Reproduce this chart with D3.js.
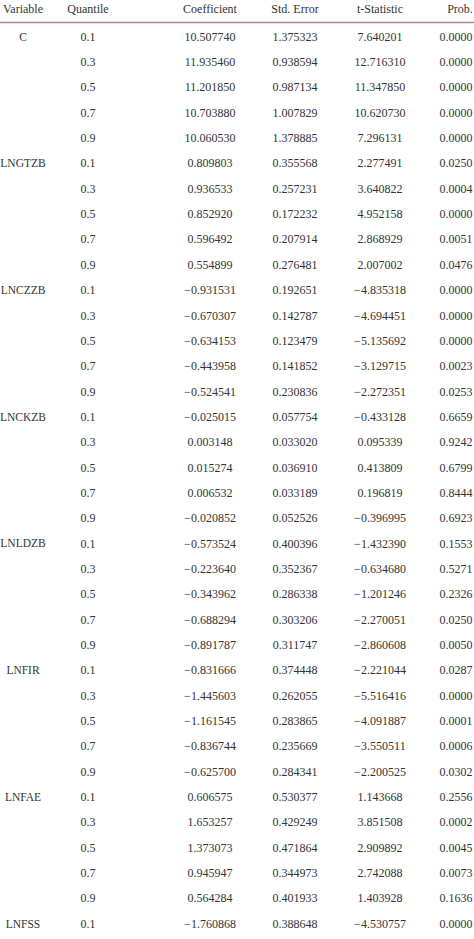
<!DOCTYPE html>
<html><head><meta charset="utf-8">
<script src="https://cdn.jsdelivr.net/npm/d3@7"></script>
<style>body{margin:0;background:#fff;overflow:hidden}</style>
</head><body><svg id="t" width="474" height="939"></svg>
<script>
// Table contents
const headers = ["Variable", "Quantile", "Coefficient", "Std. Error", "t-Statistic", "Prob."];
const variables = ["C", "LNGTZB", "LNCZZB", "LNCKZB", "LNLDZB", "LNFIR", "LNFAE", "LNFSS"];
const quantiles = ["0.1", "0.3", "0.5", "0.7", "0.9"];
const coefficient = [
  "10.507740","11.935460","11.201850","10.703880","10.060530",
  "0.809803","0.936533","0.852920","0.596492","0.554899",
  "\u22120.931531","\u22120.670307","\u22120.634153","\u22120.443958","\u22120.524541",
  "\u22120.025015","0.003148","0.015274","0.006532","\u22120.020852",
  "\u22120.573524","\u22120.223640","\u22120.343962","\u22120.688294","\u22120.891787",
  "\u22120.831666","\u22121.445603","\u22121.161545","\u22120.836744","\u22120.625700",
  "0.606575","1.653257","1.373073","0.945947","0.564284",
  "\u22121.760868"];
const stdError = [
  "1.375323","0.938594","0.987134","1.007829","1.378885",
  "0.355568","0.257231","0.172232","0.207914","0.276481",
  "0.192651","0.142787","0.123479","0.141852","0.230836",
  "0.057754","0.033020","0.036910","0.033189","0.052526",
  "0.400396","0.352367","0.286338","0.303206","0.311747",
  "0.374448","0.262055","0.283865","0.235669","0.284341",
  "0.530377","0.429249","0.471864","0.344973","0.401933",
  "0.388648"];
const tStat = [
  "7.640201","12.716310","11.347850","10.620730","7.296131",
  "2.277491","3.640822","4.952158","2.868929","2.007002",
  "\u22124.835318","\u22124.694451","\u22125.135692","\u22123.129715","\u22122.272351",
  "\u22120.433128","0.095339","0.413809","0.196819","\u22120.396995",
  "\u22121.432390","\u22120.634680","\u22121.201246","\u22122.270051","\u22122.860608",
  "\u22122.221044","\u22125.516416","\u22124.091887","\u22123.550511","\u22122.200525",
  "1.143668","3.851508","2.909892","2.742088","1.403928",
  "\u22124.530757"];
const prob = [
  "0.0000","0.0000","0.0000","0.0000","0.0000",
  "0.0250","0.0004","0.0000","0.0051","0.0476",
  "0.0000","0.0000","0.0000","0.0023","0.0253",
  "0.6659","0.9242","0.6799","0.8444","0.6923",
  "0.1553","0.5271","0.2326","0.0250","0.0050",
  "0.0287","0.0000","0.0001","0.0006","0.0302",
  "0.2556","0.0002","0.0045","0.0073","0.1636",
  "0.0000"];

const rows = coefficient.map((c, i) => ({
  variable: i % 5 === 0 ? variables[i / 5] : "",
  quantile: quantiles[i % 5],
  vals: [c, stdError[i], tStat[i], prob[i]]
}));

const svg = d3.select("#t");
const xPos = {"Variable": 23, "Quantile": 88, "Coefficient": 210, "Std. Error": 295, "t-Statistic": 380, "Prob.": 456};
const y = d3.scaleLinear().domain([0, rows.length - 1]).range([38, 925]);

const font = "'Liberation Serif', 'DejaVu Serif', serif";

svg.selectAll("text.h").data(headers).enter().append("text")
  .attr("class", "h")
  .attr("x", d => d === "Prob." ? 460 : xPos[d])
  .attr("y", 10)
  .attr("text-anchor", "middle")
  .attr("dominant-baseline", "middle")
  .attr("font-family", font).attr("font-size", 12).attr("fill", "#333")
  .text(d => d);

svg.append("line")
  .attr("x1", 0).attr("x2", 474).attr("y1", 22.5).attr("y2", 22.5)
  .attr("stroke", "#b08a80").attr("stroke-width", 1.5);

const g = svg.selectAll("g.row").data(rows).enter().append("g")
  .attr("transform", (d, i) => `translate(0,${y(i)})`);

g.each(function(d) {
  const cells = [d.variable, d.quantile, ...d.vals];
  d3.select(this).selectAll("text").data(cells).enter().append("text")
    .attr("x", (c, j) => xPos[headers[j]])
    .attr("text-anchor", "middle")
    .attr("dominant-baseline", "middle")
    .attr("font-family", font)
    .attr("font-size", (c, j) => j === 0 ? 11.5 : 12)
    .attr("fill", "#333")
    .text(c => c);
});
</script></body></html>
